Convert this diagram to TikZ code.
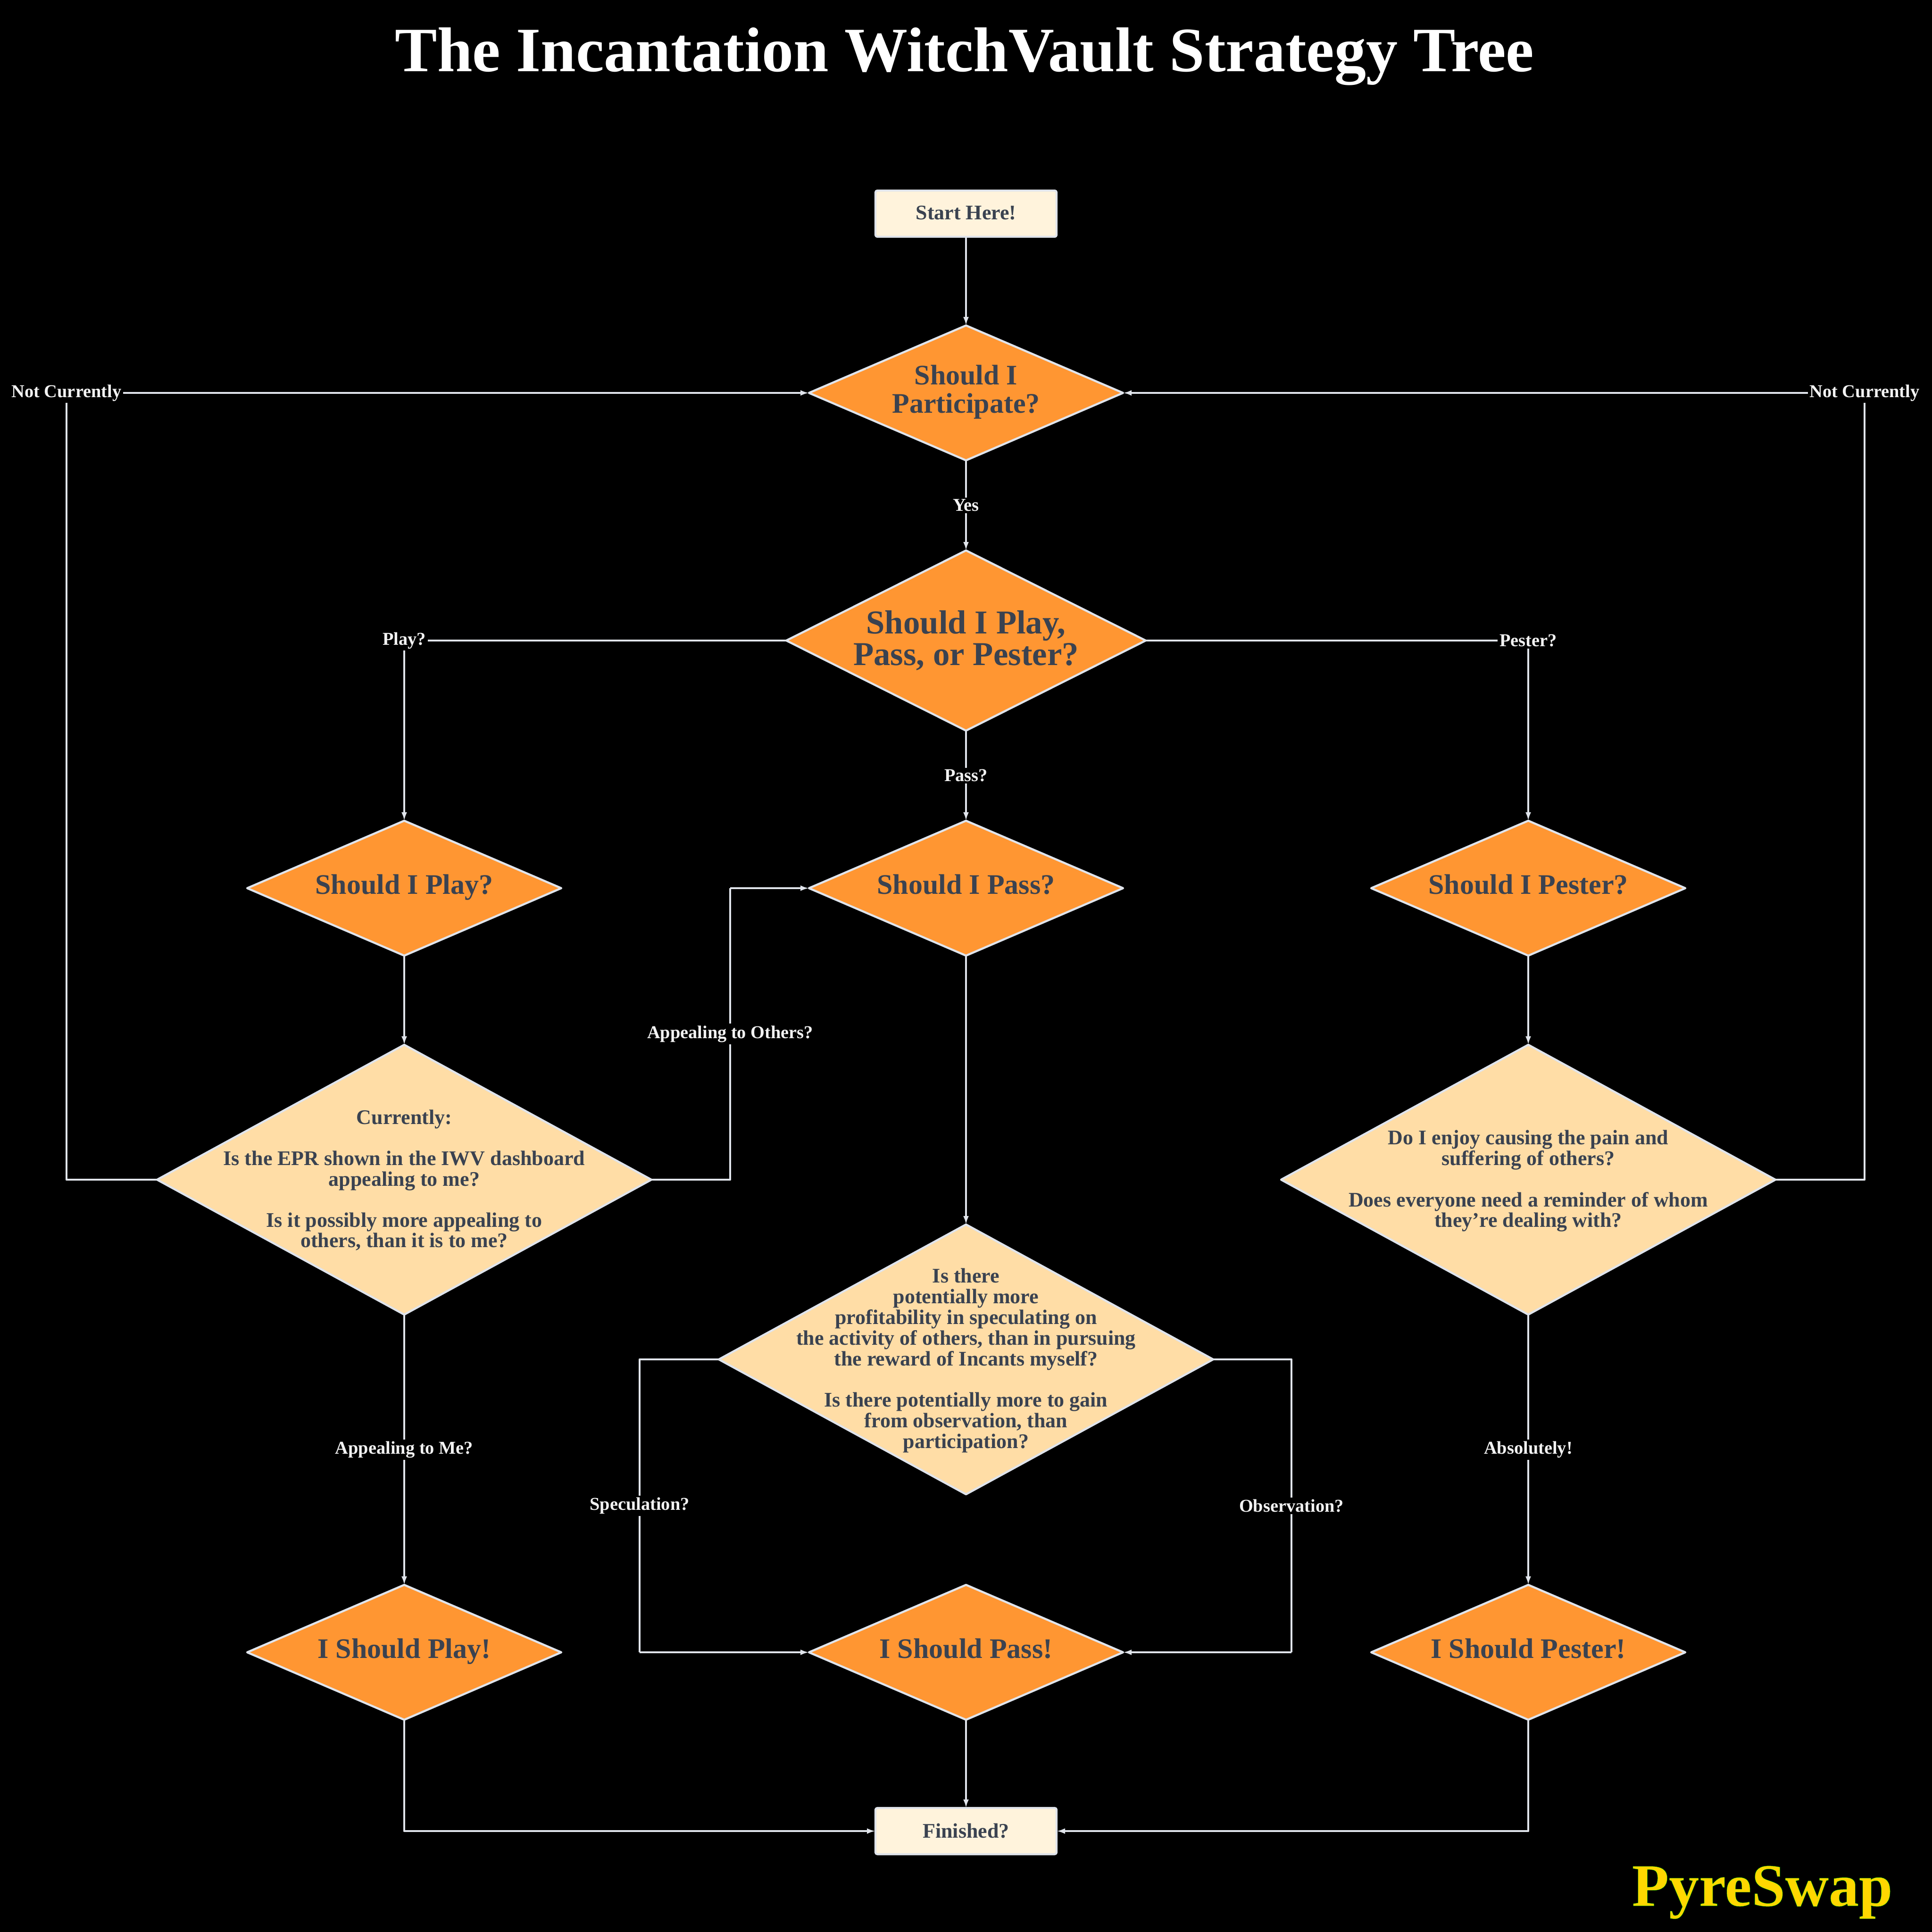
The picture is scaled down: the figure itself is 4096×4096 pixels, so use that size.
\documentclass[tikz,border=0pt]{standalone}
\usepackage{fontspec}
\setmainfont{Liberation Serif}
\usetikzlibrary{shapes.geometric, arrows.meta, positioning}
\definecolor{edgegrey}{HTML}{E0E4EB}
\definecolor{inkgrey}{HTML}{3A4250}
\definecolor{flame}{HTML}{FF9632}
\definecolor{sand}{HTML}{FFDDA6}
\definecolor{cream}{HTML}{FFF3DC}
\definecolor{labelwhite}{HTML}{F2F2F2}
\definecolor{gold}{HTML}{FFD700}
\NewDocumentCommand{\qtext}{O{3.8pt}m}{\makebox[0pt]{\smash{\raisebox{-#1}{\begin{tabular}{@{}c@{}}#2\end{tabular}}}}}
\NewDocumentCommand{\outlined}{m}{\special{pdf:code q 2 Tr 0.12 w 0 0.8 0 RG}#1\special{pdf:code Q}}

\begin{document}
\begin{tikzpicture}[x=0.25pt, y=-0.25pt, line join=round,
                main/.style = {draw=edgegrey, line width=1.1pt, text=inkgrey, outer sep=0pt},
                startbox/.style = {main, rectangle, rounded corners=1pt, fill=cream, minimum width=96pt,
                        minimum height=24.5pt, font=\fontsize{11}{13}\selectfont\bfseries},
                orangeq/.style = {main, diamond, inner sep=0pt, fill=flame, minimum width=166.5pt,
                        minimum height=71.5pt, font=\fontsize{15}{15}\selectfont\bfseries},
                bigq/.style = {orangeq, minimum width=190.5pt, minimum height=95.5pt,
                        font=\fontsize{17.7}{16.3}\selectfont\bfseries},
                sandq/.style = {orangeq, fill=sand, minimum width=262pt, minimum height=143pt,
                        font=\fontsize{11}{10.9}\selectfont\bfseries},
                flow/.style = {draw=edgegrey, line width=1.1pt, -{Latex[length=4.5pt, width=3pt]}},
                plain/.style = {draw=edgegrey, line width=1.1pt},
                edgetext/.style = {fill=black, text=labelwhite, inner sep=1pt,
                        font=\fontsize{9.6}{11}\selectfont\bfseries}]
        \fill[black] (0,0) rectangle (4096,4096);
        \useasboundingbox (0,0) rectangle (4096,4096);

        \node[text=white, font=\fontsize{33.5}{36}\selectfont\bfseries] (title) at (2045,120)
                {The Incantation WitchVault Strategy Tree};

        \node[startbox] (start) at (2048,453) {\raisebox{1pt}{Start Here!}};
        \node[orangeq] (part) at (2048,833) {\qtext{Should I\\Participate?}};
        \node[bigq] (choice) at (2048,1358) {\qtext[5.4pt]{Should I Play,\\Pass, or Pester?}};

        \node[orangeq] (play) at (857,1883) {\qtext{Should I Play?}};
        \node[orangeq] (pass) at (2048,1883) {\qtext{Should I Pass?}};
        \node[orangeq] (pester) at (3240,1883) {\qtext{Should I Pester?}};

        \node[sandq] (playq) at (857,2501) {\qtext{Currently:\\ \\Is the EPR shown in the IWV dashboard\\
                appealing to me?\\ \\Is it possibly more appealing to\\others, than it is to me?}};
        \node[sandq] (passq) at (2048,2882) {\qtext{Is there\\potentially more\\profitability in speculating on\\
                the activity of others, than in pursuing\\the reward of Incants myself?\\ \\
                Is there potentially more to gain\\from observation, than\\participation?}};
        \node[sandq] (pesterq) at (3240,2501) {\qtext{Do I enjoy causing the pain and\\suffering of others?\\ \\
                Does everyone need a reminder of whom\\they're dealing with?}};

        \node[orangeq] (playdone) at (857,3503) {\qtext{I Should Play!}};
        \node[orangeq] (passdone) at (2048,3503) {\qtext{I Should Pass!}};
        \node[orangeq] (pesterdone) at (3240,3503) {\qtext{I Should Pester!}};
        \node[startbox] (finish) at (2048,3882) {\raisebox{.5pt}{Finished?}};

        \coordinate (railleft) at (141,833);
        \coordinate (railright) at (3953,833);
        \coordinate (railothers) at (1548,1883);
        \coordinate (railspec) at (1356,3503);
        \coordinate (railobs) at (2738,3503);

        \draw[flow] (start) -- (part);
        \draw[flow] (part) -- node[edgetext] (yes) {Yes} (choice);
        \draw[flow] (choice.west) -| node[edgetext, pos=.5] (playlabel) {Play?} (play.north);
        \draw[flow] (choice) -- node[edgetext] (passlabel) {Pass?} (pass);
        \draw[flow] (choice.east) -| node[edgetext, pos=.5] (pesterlabel) {Pester?} (pester.north);

        \draw[flow] (play) -- (playq);
        \draw[flow] (pass) -- (passq);
        \draw[flow] (pester) -- (pesterq);

        \draw[flow] (playq.west) -| (railleft) -- node[edgetext, pos=0] (ncleft) {Not Currently} (part.west);
        \draw[flow] (pesterq.east) -| (railright) -- node[edgetext, pos=0] (ncright) {Not Currently} (part.east);
        \draw[plain] (playq.east) -| node[edgetext, pos=.75] (others) {Appealing to Others?} (railothers);
        \draw[flow] (railothers) -- (pass.west);

        \draw[flow] (playq) -- node[edgetext] (tome) {Appealing to Me?} (playdone);
        \draw[flow] (pesterq) -- node[edgetext] (abs) {Absolutely!} (pesterdone);
        \draw[plain] (passq.west) -| node[edgetext, pos=.75] (spec) {Speculation?} (railspec);
        \draw[flow] (railspec) -- (passdone.west);
        \draw[plain] (passq.east) -| node[edgetext, pos=.75] (obs) {Observation?} (railobs);
        \draw[flow] (railobs) -- (passdone.east);

        \draw[flow] (passdone) -- (finish);
        \draw[flow] (playdone.south) |- (finish.west);
        \draw[flow] (pesterdone.south) |- (finish.east);

        \node[text=gold, font=\fontsize{32}{34}\selectfont\bfseries] (brand) at (3736,4012) {\outlined{PyreSwap}};
\end{tikzpicture}
\end{document}
